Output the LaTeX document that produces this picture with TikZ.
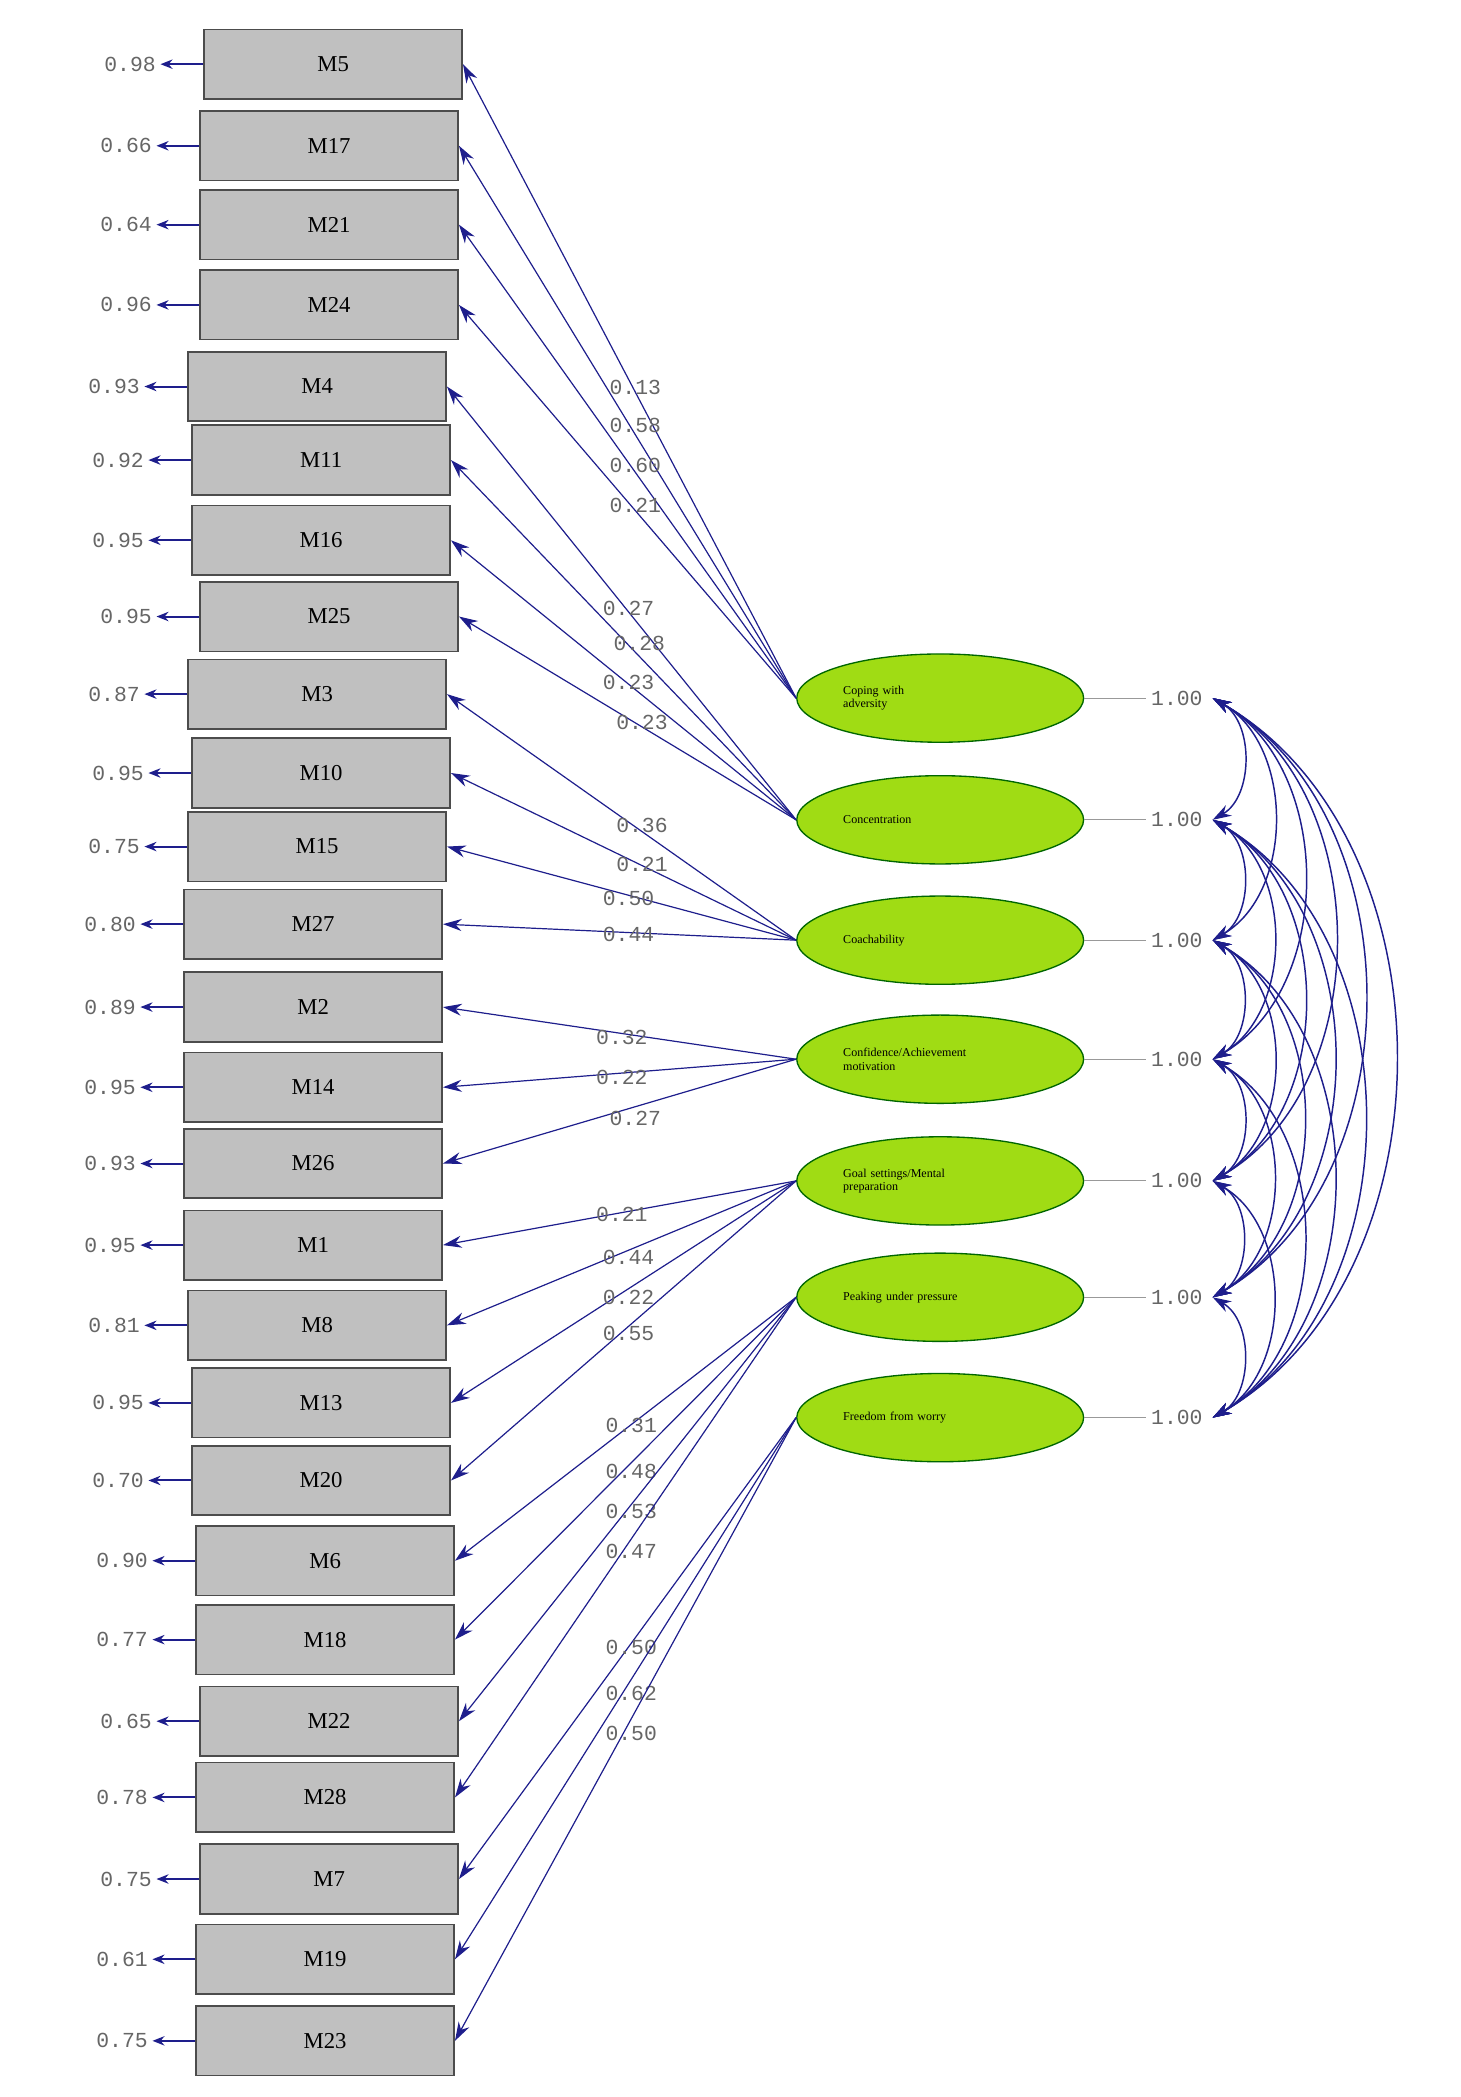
\documentclass[tikz,border=0pt]{standalone}
\usepackage{fontspec}
\setmainfont{Liberation Serif}
\newfontfamily\monof{Liberation Mono}
\usetikzlibrary{arrows.meta,shapes.geometric}
\definecolor{lnav}{RGB}{30,30,140}
\definecolor{boxg}{RGB}{192,192,192}
\definecolor{lime}{RGB}{160,220,20}
\tikzset{
 obsbox/.style={draw=black!70,line width=1.2pt,fill=boxg,minimum width=193pt,minimum height=52pt,anchor=west,font=\fontsize{17}{17}\selectfont},
 fac/.style={ellipse,draw=green!40!black,line width=1pt,fill=lime,minimum width=190pt,minimum height=66pt,font=\fontsize{9}{10}\selectfont,align=left,text width=145pt},
 numlab/.style={font=\monof\fontsize{16}{16}\selectfont,text=black!60},
 load/.style={draw=lnav,line width=0.9pt,-{Stealth[length=14pt,width=9pt]}},
 err/.style={draw=lnav,line width=1.5pt,-{Stealth[length=9pt,width=7pt]}},
 cov/.style={draw=lnav,line width=1.1pt,{Stealth[length=14pt,width=9pt]}-{Stealth[length=14pt,width=9pt]},bend left=60},
}
\begin{document}
\begin{tikzpicture}[x=1pt,y=-1pt]
\useasboundingbox (0,0) rectangle (1092,1568);
\foreach \n/\x/\y/\e in {5/152/48/0.98,17/149/109/0.66,21/149/168/0.64,24/149/228/0.96,4/140/289/0.93,11/143/344/0.92,16/143/404/0.95,25/149/461/0.95,3/140/519/0.87,10/143/578/0.95,15/140/633/0.75,27/137/691/0.80,2/137/753/0.89,14/137/813/0.95,26/137/870/0.93,1/137/931/0.95,8/140/991/0.81,13/143/1049/0.95,20/143/1107/0.70,6/146/1167/0.90,18/146/1226/0.77,22/149/1287/0.65,28/146/1344/0.78,7/149/1405/0.75,19/146/1465/0.61,23/146/1526/0.75}{
 \node[obsbox] (b\n) at (\x,\y) {M\n};
 \node[numlab,anchor=east] (e\n) at (\x-32,\y) {\e};
 \draw[err] (b\n.west) -- (e\n.east);
}
\foreach \f/\y/\t in {c1/522/{Coping with\\adversity},c2/613/{Concentration},c3/703/{Coachability},c4/792/{Confidence/Achievement\\motivation},c5/883/{Goal settings/Mental\\preparation},c6/970/{Peaking under pressure},c7/1060/{Freedom from worry}}{
 \node[fac] (\f) at (703,\y) {\t};
 \node[numlab] (v\f) at (880,\y) {1.00};
 \draw[black!40,line width=0.8pt] (\f.east) -- (v\f.west);
}
\foreach \f/\n/\lx/\ly/\l in {c1/5/475/290/0.13,c1/17/475/318/0.58,c1/21/475/348/0.60,c1/24/475/378/0.21,
c2/4/470/455/0.27,c2/11/478/481/0.28,c2/16/470/510/0.23,c2/25/480/540/0.23,
c3/3/480/617/0.36,c3/10/480/646/0.21,c3/15/470/672/0.50,c3/27/470/699/0.44,
c4/2/465/776/0.32,c4/14/465/806/0.22,c4/26/475/836/0.27,
c5/1/465/908/0.21,c5/8/470/940/0.44,c5/13/470/970/0.22,c5/20/470/997/0.55,
c6/6/472/1066/0.31,c6/18/472/1100/0.48,c6/22/472/1130/0.53,c6/28/472/1160/0.47,
c7/7/472/1232/0.50,c7/19/472/1266/0.62,c7/23/472/1296/0.50}{
 \draw[load] (\f.west) -- (b\n.east);
 \node[numlab] at (\lx,\ly) {\l};
}
\foreach \i in {1,...,7}{\coordinate (k\i) at ([xshift=4pt]vc\i.east);}
\foreach \a/\b in {1/2,1/3,1/4,1/5,1/6,1/7,2/3,2/4,2/5,2/6,2/7,3/4,3/5,3/6,3/7,4/5,4/6,4/7,5/6,5/7,6/7}{
 \draw[cov] (k\a) to (k\b);
}
\end{tikzpicture}
\end{document}
